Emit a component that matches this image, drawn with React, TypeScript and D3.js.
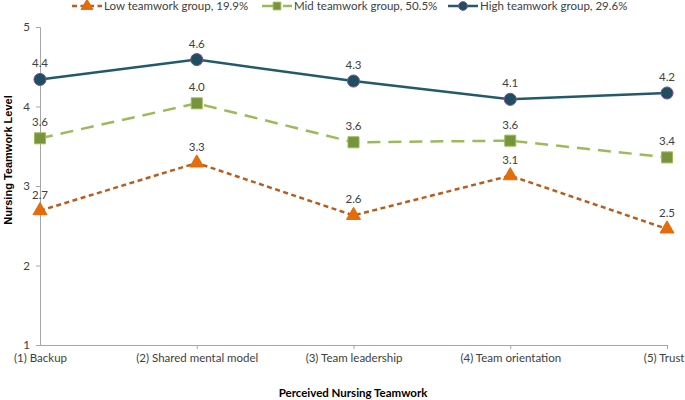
import React, { useRef, useEffect } from 'react'
import * as d3 from 'd3'

// Categories on the x axis
const CATEGORIES = [
  '(1) Backup',
  '(2) Shared mental model',
  '(3) Team leadership',
  '(4) Team orientation',
  '(5) Trust',
]

// Series values
const LOW_VALUES = [2.69, 3.29, 2.63, 3.13, 2.46]
const MID_VALUES = [3.60, 4.04, 3.55, 3.57, 3.36]
const HIGH_VALUES = [4.34, 4.59, 4.32, 4.09, 4.17]

// Printed data labels
const LOW_LABELS = ['2.7', '3.3', '2.6', '3.1', '2.5']
const MID_LABELS = ['3.6', '4.0', '3.6', '3.6', '3.4']
const HIGH_LABELS = ['4.4', '4.6', '4.3', '4.1', '4.2']

const SERIES_NAMES = [
  'Low teamwork group, 19.9%',
  'Mid teamwork group, 50.5%',
  'High teamwork group, 29.6%',
]

const Y_TICKS = [1, 2, 3, 4, 5]

const FONT = "Lato, 'Liberation Sans', Arial, sans-serif"

const STYLES = [
  { line: '#BA5D1C', fill: '#E46C0A', stroke: '#E46C0A', dash: '5,3.5', marker: 'triangle' },
  { line: '#9BBB59', fill: '#77933C', stroke: '#9BBB59', dash: '13,8', marker: 'square' },
  { line: '#215A6A', fill: '#1F4E5F', stroke: '#7A4EA8', dash: null, marker: 'circle' },
]

export default function App() {
  const svgRef = useRef<SVGSVGElement>(null)
  const width = 685
  const height = 400

  useEffect(() => {
    if (!svgRef.current) return
    const svg = d3.select(svgRef.current)
    svg.selectAll('*').remove()

    const x = d3.scalePoint<string>().domain(CATEGORIES).range([40, 667])
    const y = d3.scaleLinear().domain([1, 5]).range([345, 27])

    const series = [
      { name: SERIES_NAMES[0], values: LOW_VALUES, labels: LOW_LABELS, style: STYLES[0] },
      { name: SERIES_NAMES[1], values: MID_VALUES, labels: MID_LABELS, style: STYLES[1] },
      { name: SERIES_NAMES[2], values: HIGH_VALUES, labels: HIGH_LABELS, style: STYLES[2] },
    ]

    // y axis
    const yAxis = svg.append('g')
      .attr('transform', 'translate(40,0)')
      .call(d3.axisLeft(y).tickValues(Y_TICKS).tickSize(4).tickPadding(6).tickFormat(d3.format('d')))
    yAxis.select('.domain').attr('stroke', '#A6A6A6')
    yAxis.selectAll('line').attr('stroke', '#A6A6A6')
    yAxis.selectAll('text')
      .style('font-family', FONT)
      .style('font-size', '11.5px')
      .attr('fill', '#404040')

    // x axis
    const xAxis = svg.append('g')
      .attr('transform', 'translate(0,345)')
      .call(d3.axisBottom(x).tickSize(4).tickSizeOuter(0).tickPadding(5))
    xAxis.select('.domain').attr('stroke', '#A6A6A6')
    xAxis.selectAll('line').attr('stroke', '#A6A6A6')
    xAxis.selectAll('.tick').filter((_d, i) => i === 0).select('line').remove()
    xAxis.selectAll('text')
      .style('font-family', FONT)
      .style('font-size', '11.5px')
      .attr('fill', '#404040')
    // last label sits flush with the right edge
    xAxis.selectAll('.tick').filter((_d, i) => i === CATEGORIES.length - 1).select('text')
      .attr('text-anchor', 'end')
      .attr('x', 17)

    const markerPath = (kind: string, size: number) => {
      if (kind === 'triangle') return d3.symbol(d3.symbolTriangle, size)()
      if (kind === 'square') return d3.symbol(d3.symbolSquare, size)()
      return d3.symbol(d3.symbolCircle, size)()
    }
    const markerSize = (kind: string) => (kind === 'triangle' ? 85 : kind === 'square' ? 121 : 115)

    const line = d3.line<number>()
      .x((_d, i) => x(CATEGORIES[i])!)
      .y(d => y(d))

    series.forEach(s => {
      const g = svg.append('g')
      g.append('path')
        .attr('d', line(s.values))
        .attr('fill', 'none')
        .attr('stroke', s.style.line)
        .attr('stroke-width', 2.5)
        .attr('stroke-dasharray', s.style.dash)

      g.selectAll('.pt')
        .data(s.values)
        .enter().append('path')
        .attr('transform', (d, i) => `translate(${x(CATEGORIES[i])},${y(d)})`)
        .attr('d', markerPath(s.style.marker, markerSize(s.style.marker)))
        .attr('fill', s.style.fill)
        .attr('stroke', s.style.stroke)
        .attr('stroke-width', 1)

      g.selectAll('.lbl')
        .data(s.values)
        .enter().append('text')
        .attr('x', (_d, i) => x(CATEGORIES[i])!)
        .attr('y', d => y(d) - 12)
        .attr('text-anchor', 'middle')
        .style('font-family', FONT)
        .style('font-size', '11.5px')
        .attr('fill', '#404040')
        .text((_d, i) => s.labels[i])
    })

    // legend
    const legendX = [72, 262, 448]
    series.forEach((s, i) => {
      const lg = svg.append('g').attr('transform', `translate(${legendX[i]},6)`)
      lg.append('line')
        .attr('x1', 0).attr('x2', 30)
        .attr('y1', 0).attr('y2', 0)
        .attr('stroke', s.style.line)
        .attr('stroke-width', 2.5)
        .attr('stroke-dasharray', s.style.dash)
      lg.append('path')
        .attr('transform', 'translate(15,0)')
        .attr('d', markerPath(s.style.marker, 60))
        .attr('fill', s.style.fill)
        .attr('stroke', s.style.stroke)
      lg.append('text')
        .attr('x', 32)
        .attr('y', 4)
        .style('font-family', FONT)
        .style('font-size', '11.5px')
        .attr('fill', '#404040')
        .text(s.name)
    })

    // axis titles
    svg.append('text')
      .attr('transform', 'translate(12,160) rotate(-90)')
      .attr('text-anchor', 'middle')
      .style('font-family', "'Liberation Sans', Arial, sans-serif")
      .style('font-size', '11px')
      .style('font-weight', 'bold')
      .attr('fill', '#000000')
      .text('Nursing Teamwork Level')

    svg.append('text')
      .attr('x', 353)
      .attr('y', 397)
      .attr('text-anchor', 'middle')
      .style('font-family', FONT)
      .style('font-size', '11.5px')
      .style('font-weight', 'bold')
      .attr('fill', '#000000')
      .text('Perceived Nursing Teamwork')
  }, [])

  return (
    <svg
      ref={svgRef}
      width={width}
      height={height}
      style={{ position: 'absolute', left: 0, top: 0, background: '#FFFFFF' }}
    />
  )
}
